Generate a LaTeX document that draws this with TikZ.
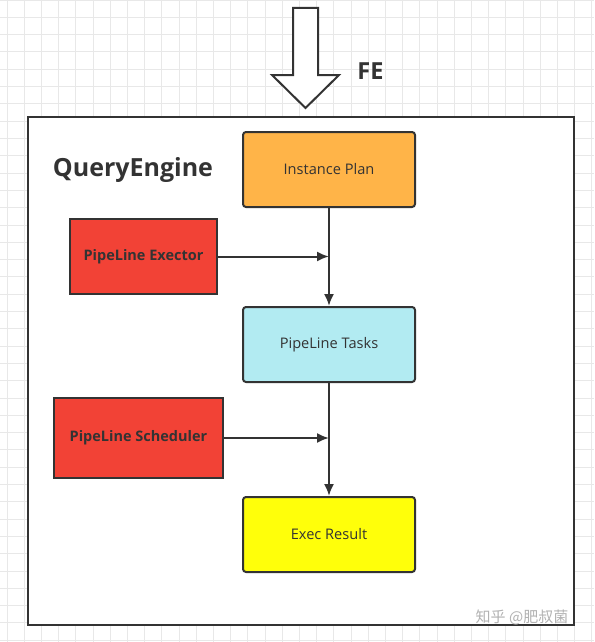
\documentclass[tikz,border=0pt]{standalone}
\usepackage{fontspec}
\setmainfont{Open Sans}
\newfontfamily\cjk{Noto Sans CJK SC}
\usepackage{xcolor}
\usepackage{tikz}
\usetikzlibrary{arrows.meta,positioning,calc}
\definecolor{edgegray}{RGB}{51,51,51}
\definecolor{planorange}{RGB}{255,180,72}
\definecolor{stepred}{RGB}{242,66,54}
\definecolor{taskcyan}{RGB}{178,235,242}
\definecolor{resyellow}{RGB}{255,255,10}
\tikzset{
  box/.style={draw=edgegray,line width=2pt,rounded corners=3pt,minimum width=172pt,minimum height=75pt,
    text=edgegray,font=\fontsize{14.6}{17}\selectfont},
  redbox/.style={draw=edgegray,line width=2pt,fill=stepred,minimum height=75pt,
    text=edgegray,font=\bfseries\fontsize{14.5}{17}\selectfont},
  flow/.style={draw=edgegray,line width=2pt,-{Latex[length=12pt,width=10pt]}}
}
\begin{document}
\begin{tikzpicture}[x=1pt,y=-1pt]
\useasboundingbox (0,0) rectangle (594,642);
% grid
\fill[white] (0,0) rectangle (594,642);
\foreach \i in {0,...,34}{\draw[gray!18,line width=0.8pt] (7+17.2*\i,0) -- (7+17.2*\i,642);}
\foreach \i in {0,...,37}{\draw[gray!18,line width=0.8pt] (0,0+17.3*\i) -- (594,0+17.3*\i);}
% engine frame
\node[draw=edgegray,line width=2pt,fill=white,anchor=north west,minimum width=546pt,minimum height=508pt,inner sep=0pt] (engine) at (27,116) {};
\node[font=\bfseries\fontsize{25}{30}\selectfont,text=edgegray] (title) at (133,170) {QueryEngine};
% input arrow from FE
\draw[edgegray,line width=2pt,fill=white,line join=miter] (293,8) -- (318,8) -- (318,75) -- (339,75) -- (305.5,108) -- (272,75) -- (293,75) -- cycle;
\node[font=\bfseries\fontsize{23.5}{28}\selectfont,text=edgegray] (fe) at (370.5,71) {FE};
% stages
\node[box,fill=planorange] (plan) at (329,169.5) {Instance Plan};
\node[box,fill=taskcyan] (tasks) at (329,344.5) {PipeLine Tasks};
\node[box,fill=resyellow] (result) at (329,534.5) {Exec Result};
\node[redbox,minimum width=147pt] (exector) at (143.5,256.5) {PipeLine Exector};
\node[redbox,minimum width=169pt,minimum height=80pt] (scheduler) at (138.5,438) {PipeLine Scheduler};
% connectors
\coordinate (joinA) at (plan.south |- exector.east);
\coordinate (joinB) at (tasks.south |- scheduler.east);
\draw[flow] (plan) -- (tasks);
\draw[flow] (tasks) -- (result);
\draw[flow] (exector) -- (joinA);
\draw[flow] (scheduler) -- (joinB);
% watermark
\node[text=gray!60,font=\cjk\fontsize{15}{17}\selectfont] (mark) at (522,617) {知乎 @肥叔菌};
\end{tikzpicture}
\end{document}
